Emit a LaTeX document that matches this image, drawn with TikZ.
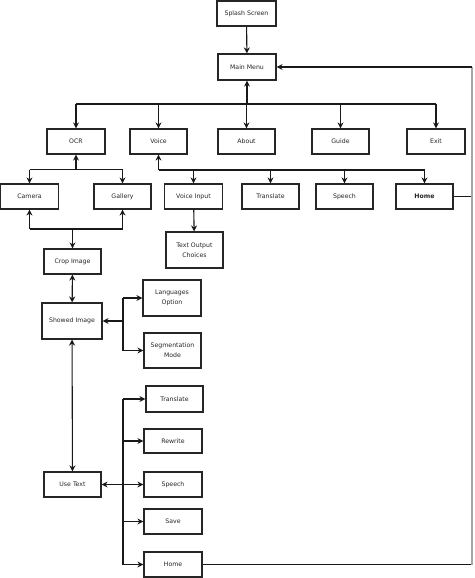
\documentclass[tikz,border=0pt]{standalone}
\usepackage{fontspec}
\setmainfont{DejaVu Sans}
\usetikzlibrary{arrows.meta}
\begin{document}
\begin{tikzpicture}[x=1pt,y=-1pt,
  box/.style={draw=black!85,line width=1.2pt,minimum width=57pt,minimum height=25pt,inner sep=0pt,align=center,
    font=\fontsize{6.2}{10}\selectfont,text=black!85},
  conn/.style={line width=1.1pt,draw=black!90},
  arr/.style={conn,-{Stealth[length=6pt,width=6pt]}},
  darr/.style={conn,{Stealth[length=6pt,width=6pt]}-{Stealth[length=6pt,width=6pt]}},
  ret/.style={line width=1.3pt,draw=black!35}]
\useasboundingbox (0,0) rectangle (474,578);
\fill[white] (0,0) rectangle (474,578);
% nodes
\node[box,minimum width=59pt,minimum height=25pt] (splash) at (246.5,13.5) {Splash Screen};
\node[box,minimum width=58pt,minimum height=26pt] (main) at (247,67) {Main Menu};
\node[box,minimum width=58pt] (ocr) at (76,141.5) {OCR};
\node[box] (voice) at (158.5,141.5) {Voice};
\node[box] (about) at (246.5,141.5) {About};
\node[box] (guide) at (340.5,141.5) {Guide};
\node[box,minimum width=58pt] (exit) at (436,141.5) {Exit};
\node[box,minimum width=58pt] (camera) at (29.5,196.5) {Camera};
\node[box] (gallery) at (122.5,196.5) {Gallery};
\node[box,minimum width=58pt] (vinput) at (193.5,196.5) {Voice Input};
\node[box] (trans1) at (270.5,196.5) {Translate};
\node[box] (speech1) at (344.5,196.5) {Speech};
\node[box,font=\fontsize{6.2}{10}\selectfont\bfseries] (home1) at (424.5,196.5) {Home};
\node[box,minimum height=36pt] (textout) at (194.5,250) {Text Output\\Choices};
\node[box] (crop) at (72.5,261.5) {Crop Image};
\node[box,minimum width=60pt,minimum height=36pt] (showed) at (72,321) {Showed Image};
\node[box,minimum width=58pt,minimum height=36pt] (lang) at (172,298) {Languages\\Option};
\node[box,minimum height=35pt] (seg) at (172.5,350.5) {Segmentation\\Mode};
\node[box] (usetext) at (72.5,484.5) {Use Text};
\node[box,minimum height=26pt] (trans2) at (174.5,399) {Translate};
\node[box,minimum width=58pt,minimum height=24pt] (rewrite) at (173,441) {Rewrite};
\node[box,minimum width=58pt] (speech2) at (173,484.5) {Speech};
\node[box,minimum width=58pt] (save) at (173,521.5) {Save};
\node[box,minimum width=58pt] (home2) at (173,564.5) {Home};
% junction coordinates
\coordinate (busA) at (247,104);
\coordinate (busB) at (76,169.5);
\coordinate (busC) at (158.5,170);
\coordinate (busD) at (76,229);
\coordinate (brS) at (123,321);
\coordinate (brU) at (123,484.5);
\coordinate (retB) at (472,564.5);
\coordinate (retT) at (472,67);
% main flow
\draw[arr] (splash) -- (main);
\draw[arr] (busA) -- (main);
\draw[conn] (ocr.north |- busA) -- (exit.north |- busA);
\foreach \n in {ocr,voice,about,guide,exit} \draw[arr] (\n.north |- busA) -- (\n.north);
% OCR branch
\draw[arr] (busB) -- (ocr);
\draw[conn] (camera.south |- busB) -- (gallery.south |- busB);
\foreach \n in {camera,gallery} \draw[arr] (\n.north |- busB) -- (\n.north);
% Voice branch
\draw[arr] (busC) -- (voice);
\draw[conn] (busC) -- (home1.north |- busC);
\foreach \n in {vinput,trans1,speech1,home1} \draw[arr] (\n.north |- busC) -- (\n.north);
\draw[arr] (vinput) -- (textout);
% camera/gallery to crop
\draw[conn] (camera.south |- busD) -- (gallery.south |- busD);
\foreach \n in {camera,gallery} \draw[arr] (\n.south |- busD) -- (\n.south);
\draw[arr] (crop.north |- busD) -- (crop.north);
\draw[darr] (crop) -- (showed);
\draw[darr] (showed) -- (usetext);
% showed image options
\draw[conn] (brS |- lang) -- (brS |- seg);
\draw[arr] (brS) -- (showed.east);
\draw[arr] (brS |- lang) -- (lang.west);
\draw[arr] (brS |- seg) -- (seg.west);
% use text options
\draw[conn] (brU |- trans2) -- (brU |- home2);
\draw[darr] (usetext.east) -- (speech2.west);
\foreach \n in {trans2,rewrite,save,home2} \draw[arr] (brU |- \n) -- (\n.west);
% return to main menu
\draw[conn] (home2.east) -- (retB);
\draw[conn] (home1.east) -- (retB |- home1);
\draw[ret] (retB) -- (retT);
\draw[arr] (retT) -- (main.east);
\end{tikzpicture}
\end{document}
